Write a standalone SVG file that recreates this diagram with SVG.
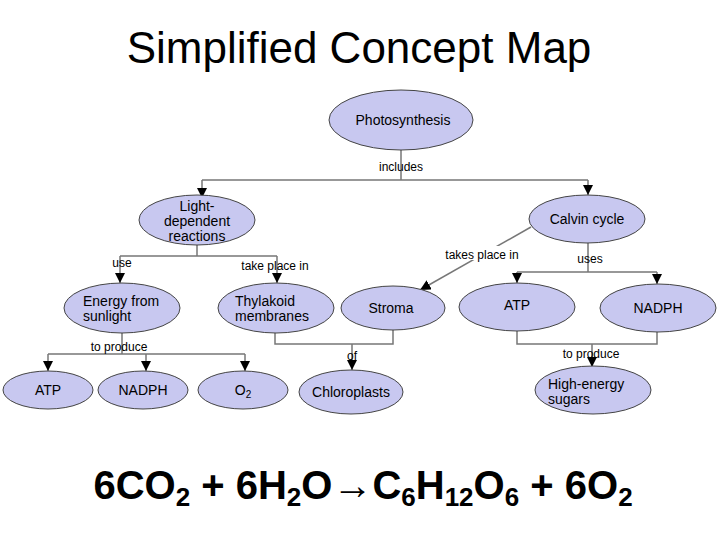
<svg xmlns="http://www.w3.org/2000/svg" width="720" height="540" viewBox="0 0 720 540">
<defs><marker id="ah" viewBox="0 0 10 10" refX="10" refY="5" markerWidth="7" markerHeight="7" orient="auto"><path d="M0,0 L10,5 L0,10 z" fill="#000"/></marker></defs>
<style>
ellipse{fill:#c8c8f0;stroke:#444;stroke-width:1}
text{font-family:"Liberation Sans",Arial,sans-serif;fill:#000}
.n{font-size:14px}
.l{font-size:12px;text-anchor:middle}
.c{stroke:#777;stroke-width:1.5;fill:none}
.a{stroke:#777;stroke-width:1.5;fill:none;marker-end:url(#ah)}
</style>
<rect width="720" height="540" fill="#fff"/>
<text x="359" y="63" font-size="44" text-anchor="middle">Simplified Concept Map</text>
<g id="connectors">
<path class="c" d="M401,150V180M202,180H588"/>
<path class="a" d="M202,180V198"/><path class="a" d="M588,180V195"/>
<path class="c" d="M197,245V256M120,256H277"/>
<path class="a" d="M120,256V283"/><path class="a" d="M277,256V283"/>
<path class="c" d="M122,333V354M48,354H245"/>
<path class="a" d="M48,354V371"/><path class="a" d="M146,354V371"/><path class="a" d="M245,354V371"/>
<path class="c" d="M275,333V344H393V330"/>
<path class="a" d="M352,344V370"/>
<path class="a" stroke="#333" d="M531,227L420,290"/>
<path class="c" d="M588,243V272M517,272H657"/>
<path class="a" d="M517,272V283"/><path class="a" d="M657,272V284"/>
<path class="c" d="M517,331V344H657V332"/>
<path class="a" d="M592,344V367"/>
<rect x="438" y="246" width="88" height="14" fill="#fff"/>
<text class="l" x="401" y="171">includes</text>
<text class="l" x="122" y="267">use</text>
<text class="l" x="275" y="270">take place in</text>
<text class="l" x="119" y="351">to produce</text>
<text class="l" x="352" y="360">of</text>
<text class="l" x="482" y="259">takes place in</text>
<text class="l" x="590" y="263">uses</text>
<text class="l" x="591" y="358">to produce</text>
</g>
<g id="photosynthesis"><ellipse cx="401" cy="120" rx="72" ry="30"/><text class="n" x="403" y="125" text-anchor="middle">Photosynthesis</text></g>
<g id="light"><ellipse cx="197" cy="220" rx="58" ry="25"/><text class="n" text-anchor="middle"><tspan x="197" y="211">Light-</tspan><tspan x="197" y="226">dependent</tspan><tspan x="197" y="241">reactions</tspan></text></g>
<g id="calvin"><ellipse cx="587" cy="219" rx="58" ry="24"/><text class="n" x="587" y="224" text-anchor="middle">Calvin cycle</text></g>
<g id="energy"><ellipse cx="122" cy="308" rx="58" ry="25"/><text class="n"><tspan x="83" y="306">Energy from</tspan><tspan x="83" y="321">sunlight</tspan></text></g>
<g id="thylakoid"><ellipse cx="276" cy="308" rx="58" ry="25"/><text class="n"><tspan x="235" y="306">Thylakoid</tspan><tspan x="235" y="321">membranes</tspan></text></g>
<g id="stroma"><ellipse cx="393" cy="308" rx="52" ry="22"/><text class="n" x="391" y="313" text-anchor="middle">Stroma</text></g>
<g id="atp2"><ellipse cx="517" cy="307" rx="58" ry="24"/><text class="n" x="517" y="310" text-anchor="middle">ATP</text></g>
<g id="nadph2"><ellipse cx="658" cy="308" rx="58" ry="24"/><text class="n" x="658" y="313" text-anchor="middle">NADPH</text></g>
<g id="atp1"><ellipse cx="48" cy="390" rx="45" ry="19"/><text class="n" x="48" y="395" text-anchor="middle">ATP</text></g>
<g id="nadph1"><ellipse cx="143" cy="390" rx="45" ry="19"/><text class="n" x="143" y="395" text-anchor="middle">NADPH</text></g>
<g id="o2"><ellipse cx="243" cy="390" rx="45" ry="19"/><text class="n" x="243" y="395" text-anchor="middle">O<tspan font-size="10" dy="3">2</tspan></text></g>
<g id="chloroplasts"><ellipse cx="351" cy="392" rx="52" ry="22"/><text class="n" x="351" y="397" text-anchor="middle">Chloroplasts</text></g>
<g id="sugars"><ellipse cx="593" cy="390" rx="58" ry="24"/><text class="n"><tspan x="548" y="389">High-energy</tspan><tspan x="548" y="404">sugars</tspan></text></g>
<text x="363" y="499" font-size="40" font-weight="bold" text-anchor="middle">6CO<tspan font-size="26" dy="7">2</tspan><tspan dy="-7"> + 6H</tspan><tspan font-size="26" dy="7">2</tspan><tspan dy="-7">O→C</tspan><tspan font-size="26" dy="7">6</tspan><tspan dy="-7">H</tspan><tspan font-size="26" dy="7">12</tspan><tspan dy="-7">O</tspan><tspan font-size="26" dy="7">6</tspan><tspan dy="-7"> + 6O</tspan><tspan font-size="26" dy="7">2</tspan></text>
</svg>
